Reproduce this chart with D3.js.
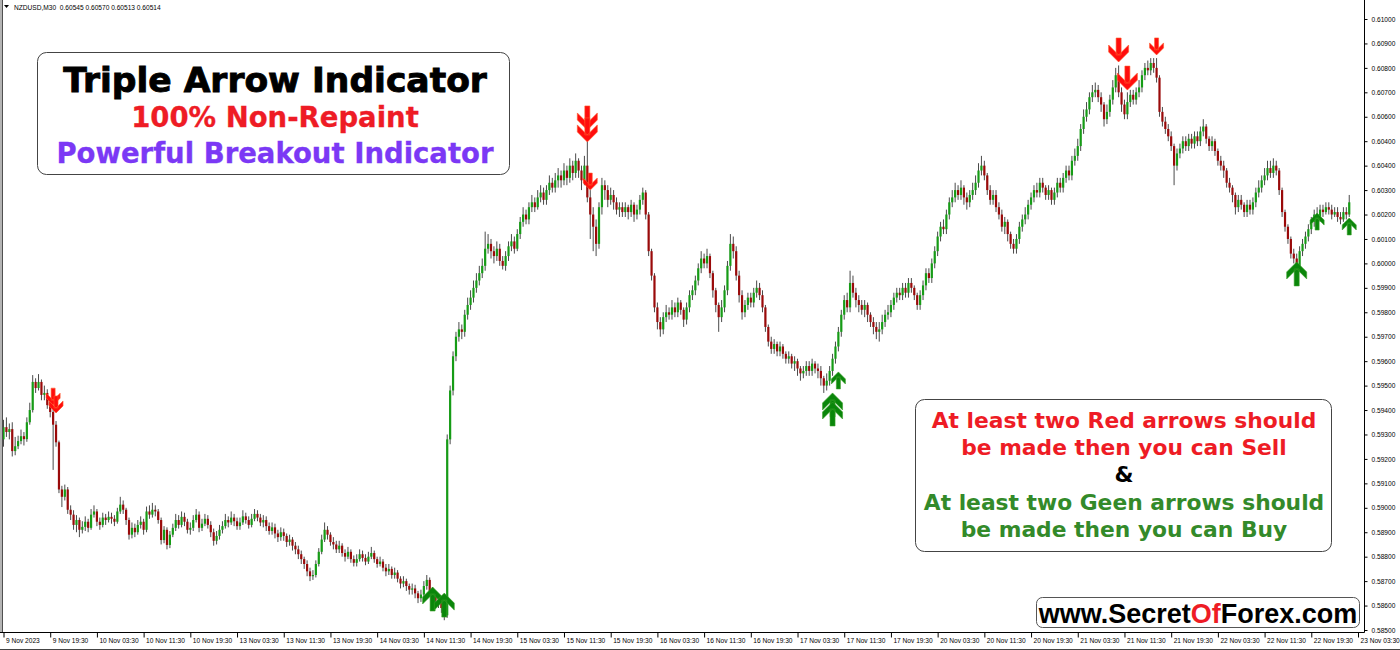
<!DOCTYPE html>
<html><head><meta charset="utf-8">
<script src="https://cdn.jsdelivr.net/npm/d3@7"></script>
<style>body{margin:0;background:#fff;overflow:hidden}svg{display:block}</style>
</head><body>
<svg id="chart" width="1400" height="650"></svg>
<script>
// ---------------- data ----------------
const symbolTitle = "NZDUSD,M30  0.60545 0.60570 0.60513 0.60514";
const timeLabels = ["9 Nov 2023","9 Nov 19:30","10 Nov 03:30","10 Nov 11:30","10 Nov 19:30","13 Nov 03:30","13 Nov 11:30","13 Nov 19:30","14 Nov 03:30","14 Nov 11:30","14 Nov 19:30","15 Nov 03:30","15 Nov 11:30","15 Nov 19:30","16 Nov 03:30","16 Nov 11:30","16 Nov 19:30","17 Nov 03:30","17 Nov 11:30","17 Nov 19:30","20 Nov 03:30","20 Nov 11:30","20 Nov 19:30","21 Nov 03:30","21 Nov 11:30","21 Nov 19:30","22 Nov 03:30","22 Nov 11:30","22 Nov 19:30","23 Nov 03:30"];
const barsPerTimeLabel = 16;
const priceTickValues = [0.610,0.609,0.608,0.607,0.606,0.605,0.604,0.603,0.602,0.601,0.600,0.599,0.598,0.597,0.596,0.595,0.594,0.593,0.592,0.591,0.590,0.589,0.588,0.587,0.586,0.585];
const priceTickLabels = ["0.61000","0.60900","0.60800","0.60700","0.60600","0.60400","0.60400","0.60300","0.60200","0.60100","0.60000","0.59900","0.59800","0.59700","0.59600","0.59500","0.59400","0.59300","0.59200","0.59100","0.59000","0.58900","0.58800","0.58700","0.58600","0.58500"];

const firstOpen = 0.59280;
const closes = [
0.59330,0.59310,0.59322,0.59232,0.59252,0.59273,0.59293,0.59281,0.59350,0.59400,
0.59515,0.59490,0.59515,0.59462,0.59470,0.59420,0.59392,0.59340,0.59268,0.59075,
0.59045,0.59075,0.58992,0.58972,0.58930,0.58950,0.58910,0.58922,0.58943,0.58918,
0.58972,0.58985,0.58943,0.58930,0.58960,0.58950,0.58963,0.58955,0.58943,0.58985,
0.59013,0.58992,0.58950,0.58890,0.58918,0.58900,0.58930,0.58943,0.58910,0.58985,
0.58972,0.58992,0.58985,0.58950,0.58868,0.58910,0.58848,0.58890,0.58918,0.58950,
0.58930,0.58963,0.58943,0.58910,0.58918,0.58950,0.58972,0.58918,0.58935,0.58955,
0.58930,0.58900,0.58865,0.58885,0.58910,0.58925,0.58950,0.58940,0.58960,0.58945,
0.58925,0.58940,0.58965,0.58950,0.58930,0.58955,0.58975,0.58960,0.58940,0.58950,
0.58925,0.58905,0.58920,0.58895,0.58880,0.58900,0.58885,0.58860,0.58870,0.58845,
0.58830,0.58810,0.58790,0.58770,0.58740,0.58720,0.58725,0.58770,0.58820,0.58870,
0.58910,0.58890,0.58860,0.58850,0.58830,0.58845,0.58815,0.58800,0.58820,0.58790,
0.58775,0.58790,0.58810,0.58795,0.58780,0.58800,0.58815,0.58790,0.58770,0.58780,
0.58755,0.58740,0.58750,0.58725,0.58735,0.58710,0.58690,0.58700,0.58680,0.58665,
0.58670,0.58650,0.58630,0.58645,0.58680,0.58705,0.58660,0.58640,0.58620,0.58610,
0.58590,0.58560,0.59280,0.59480,0.59620,0.59700,0.59730,0.59720,0.59790,0.59830,
0.59860,0.59900,0.59930,0.59960,0.59990,0.60060,0.60080,0.60050,0.60030,0.60060,
0.60010,0.59990,0.60030,0.60070,0.60090,0.60060,0.60120,0.60170,0.60200,0.60180,
0.60230,0.60250,0.60230,0.60270,0.60290,0.60260,0.60300,0.60330,0.60310,0.60340,
0.60360,0.60340,0.60380,0.60350,0.60400,0.60370,0.60420,0.60380,0.60340,0.60400,
0.60270,0.60200,0.60150,0.60080,0.60230,0.60320,0.60300,0.60260,0.60280,0.60250,
0.60220,0.60230,0.60210,0.60230,0.60210,0.60240,0.60200,0.60220,0.60260,0.60290,
0.60200,0.60050,0.59950,0.59820,0.59760,0.59730,0.59780,0.59800,0.59790,0.59820,
0.59800,0.59840,0.59810,0.59770,0.59820,0.59870,0.59890,0.59930,0.59980,0.60020,
0.60000,0.60030,0.59960,0.59890,0.59830,0.59780,0.59820,0.59890,0.59990,0.60080,
0.60050,0.59950,0.59870,0.59800,0.59830,0.59860,0.59840,0.59880,0.59900,0.59870,
0.59820,0.59740,0.59680,0.59650,0.59670,0.59640,0.59660,0.59630,0.59610,0.59620,
0.59590,0.59600,0.59570,0.59550,0.59560,0.59580,0.59560,0.59590,0.59570,0.59560,
0.59530,0.59500,0.59520,0.59560,0.59610,0.59660,0.59720,0.59790,0.59850,0.59820,
0.59920,0.59880,0.59850,0.59830,0.59810,0.59830,0.59790,0.59760,0.59740,0.59720,
0.59730,0.59760,0.59790,0.59800,0.59830,0.59860,0.59880,0.59870,0.59900,0.59880,
0.59920,0.59900,0.59870,0.59830,0.59870,0.59910,0.59960,0.59940,0.60000,0.60050,
0.60110,0.60150,0.60140,0.60200,0.60250,0.60270,0.60300,0.60280,0.60310,0.60270,
0.60250,0.60280,0.60300,0.60330,0.60380,0.60400,0.60360,0.60300,0.60260,0.60280,
0.60230,0.60200,0.60150,0.60170,0.60120,0.60080,0.60060,0.60100,0.60150,0.60180,
0.60200,0.60240,0.60270,0.60300,0.60290,0.60330,0.60310,0.60280,0.60300,0.60260,
0.60290,0.60330,0.60310,0.60350,0.60380,0.60360,0.60420,0.60440,0.60480,0.60550,
0.60600,0.60630,0.60680,0.60700,0.60710,0.60680,0.60650,0.60590,0.60620,0.60670,
0.60720,0.60770,0.60700,0.60650,0.60610,0.60660,0.60690,0.60670,0.60700,0.60720,
0.60770,0.60800,0.60790,0.60820,0.60800,0.60760,0.60620,0.60580,0.60550,0.60520,
0.60480,0.60400,0.60450,0.60470,0.60500,0.60480,0.60510,0.60490,0.60520,0.60500,
0.60540,0.60560,0.60510,0.60480,0.60500,0.60460,0.60420,0.60400,0.60380,0.60330,
0.60310,0.60280,0.60230,0.60260,0.60240,0.60210,0.60240,0.60220,0.60250,0.60290,
0.60310,0.60340,0.60360,0.60390,0.60370,0.60400,0.60380,0.60300,0.60210,0.60150,
0.60100,0.60040,0.60020,0.59990,0.60050,0.60080,0.60110,0.60140,0.60170,0.60200,
0.60190,0.60220,0.60210,0.60230,0.60220,0.60200,0.60210,0.60190,0.60180,0.60210,
0.60200,0.60250];
const highs = [
0.59360,0.59370,0.59345,0.59350,0.59290,0.59295,0.59320,0.59310,0.59370,0.59430,
0.59543,0.59530,0.59547,0.59525,0.59500,0.59485,0.59440,0.59400,0.59355,0.59275,
0.59090,0.59095,0.59085,0.59010,0.58990,0.58970,0.58960,0.58945,0.58965,0.58955,
0.58995,0.59010,0.58995,0.58960,0.58980,0.58975,0.58985,0.58980,0.58970,0.59000,
0.59045,0.59030,0.59000,0.58960,0.58940,0.58935,0.58950,0.58965,0.58955,0.59005,
0.59010,0.59020,0.59010,0.58995,0.58960,0.58925,0.58920,0.58905,0.58935,0.58975,
0.58970,0.58985,0.58980,0.58955,0.58940,0.58970,0.58995,0.58985,0.58955,0.58975,
0.58970,0.58945,0.58915,0.58905,0.58930,0.58945,0.58975,0.58965,0.58985,0.58975,
0.58960,0.58960,0.58990,0.58980,0.58965,0.58975,0.58995,0.58990,0.58975,0.58970,
0.58965,0.58940,0.58940,0.58935,0.58910,0.58920,0.58915,0.58895,0.58890,0.58880,
0.58860,0.58845,0.58825,0.58800,0.58785,0.58755,0.58745,0.58785,0.58835,0.58890,
0.58940,0.58925,0.58900,0.58880,0.58865,0.58865,0.58855,0.58830,0.58840,0.58830,
0.58805,0.58810,0.58830,0.58825,0.58810,0.58820,0.58840,0.58825,0.58800,0.58800,
0.58790,0.58770,0.58770,0.58760,0.58755,0.58745,0.58720,0.58720,0.58710,0.58690,
0.58690,0.58685,0.58660,0.58665,0.58700,0.58725,0.58715,0.58675,0.58650,0.58640,
0.58620,0.58600,0.59300,0.59500,0.59640,0.59720,0.59760,0.59750,0.59810,0.59860,
0.59890,0.59930,0.59960,0.59990,0.60020,0.60130,0.60120,0.60100,0.60070,0.60090,
0.60080,0.60030,0.60050,0.60090,0.60120,0.60110,0.60140,0.60190,0.60230,0.60220,
0.60250,0.60280,0.60270,0.60300,0.60320,0.60310,0.60320,0.60360,0.60350,0.60370,
0.60390,0.60380,0.60410,0.60400,0.60430,0.60420,0.60450,0.60430,0.60400,0.60440,
0.60500,0.60300,0.60230,0.60180,0.60250,0.60350,0.60340,0.60320,0.60310,0.60300,
0.60270,0.60250,0.60250,0.60250,0.60240,0.60260,0.60250,0.60240,0.60280,0.60310,
0.60300,0.60210,0.60060,0.59960,0.59840,0.59780,0.59800,0.59830,0.59820,0.59850,
0.59840,0.59860,0.59850,0.59820,0.59840,0.59890,0.59910,0.59950,0.60000,0.60050,
0.60040,0.60060,0.60040,0.59970,0.59900,0.59840,0.59850,0.59910,0.60010,0.60120,
0.60110,0.60070,0.59970,0.59890,0.59850,0.59880,0.59880,0.59900,0.59930,0.59920,
0.59890,0.59830,0.59750,0.59700,0.59690,0.59680,0.59680,0.59670,0.59640,0.59640,
0.59630,0.59620,0.59610,0.59580,0.59580,0.59600,0.59600,0.59610,0.59600,0.59590,
0.59580,0.59540,0.59550,0.59580,0.59630,0.59680,0.59740,0.59810,0.59870,0.59880,
0.59970,0.59950,0.59900,0.59870,0.59850,0.59850,0.59840,0.59800,0.59780,0.59760,
0.59760,0.59790,0.59810,0.59830,0.59850,0.59880,0.59900,0.59900,0.59920,0.59920,
0.59940,0.59940,0.59910,0.59880,0.59890,0.59930,0.59980,0.59980,0.60020,0.60070,
0.60130,0.60170,0.60180,0.60220,0.60270,0.60300,0.60330,0.60320,0.60340,0.60320,
0.60290,0.60300,0.60330,0.60360,0.60410,0.60440,0.60420,0.60370,0.60320,0.60300,
0.60300,0.60250,0.60220,0.60190,0.60180,0.60130,0.60100,0.60120,0.60170,0.60200,
0.60230,0.60260,0.60290,0.60320,0.60330,0.60350,0.60350,0.60320,0.60320,0.60310,
0.60310,0.60350,0.60350,0.60370,0.60400,0.60400,0.60440,0.60470,0.60510,0.60570,
0.60630,0.60660,0.60700,0.60730,0.60740,0.60730,0.60700,0.60660,0.60650,0.60690,
0.60750,0.60800,0.60810,0.60720,0.60670,0.60700,0.60710,0.60710,0.60720,0.60750,
0.60790,0.60820,0.60830,0.60840,0.60840,0.60840,0.60770,0.60640,0.60600,0.60570,
0.60540,0.60490,0.60470,0.60490,0.60520,0.60520,0.60530,0.60530,0.60540,0.60540,
0.60560,0.60590,0.60570,0.60520,0.60520,0.60510,0.60470,0.60440,0.60420,0.60390,
0.60350,0.60320,0.60290,0.60280,0.60280,0.60250,0.60260,0.60260,0.60270,0.60310,
0.60340,0.60360,0.60390,0.60420,0.60420,0.60430,0.60420,0.60390,0.60310,0.60220,
0.60160,0.60110,0.60060,0.60040,0.60070,0.60100,0.60130,0.60160,0.60190,0.60220,
0.60230,0.60240,0.60240,0.60250,0.60250,0.60240,0.60230,0.60230,0.60210,0.60230,
0.60230,0.60280];
const lows = [
0.59250,0.59290,0.59280,0.59210,0.59215,0.59240,0.59260,0.59255,0.59270,0.59340,
0.59390,0.59470,0.59480,0.59440,0.59440,0.59405,0.59370,0.59155,0.59250,0.59060,
0.59003,0.59030,0.58975,0.58950,0.58910,0.58900,0.58880,0.58895,0.58905,0.58900,
0.58910,0.58960,0.58925,0.58910,0.58920,0.58930,0.58940,0.58935,0.58925,0.58935,
0.58975,0.58975,0.58930,0.58870,0.58875,0.58880,0.58890,0.58915,0.58890,0.58900,
0.58955,0.58960,0.58965,0.58935,0.58850,0.58855,0.58830,0.58835,0.58880,0.58905,
0.58915,0.58920,0.58925,0.58895,0.58890,0.58905,0.58940,0.58900,0.58905,0.58925,
0.58915,0.58880,0.58845,0.58850,0.58870,0.58895,0.58915,0.58920,0.58930,0.58925,
0.58910,0.58910,0.58930,0.58935,0.58915,0.58920,0.58945,0.58945,0.58925,0.58920,
0.58905,0.58890,0.58890,0.58875,0.58860,0.58865,0.58865,0.58840,0.58845,0.58825,
0.58810,0.58790,0.58770,0.58750,0.58720,0.58700,0.58705,0.58715,0.58760,0.58810,
0.58860,0.58870,0.58845,0.58830,0.58815,0.58815,0.58800,0.58780,0.58790,0.58775,
0.58760,0.58760,0.58780,0.58780,0.58765,0.58770,0.58790,0.58775,0.58755,0.58760,
0.58740,0.58720,0.58725,0.58710,0.58710,0.58695,0.58670,0.58675,0.58660,0.58645,
0.58645,0.58630,0.58610,0.58615,0.58635,0.58665,0.58645,0.58620,0.58600,0.58590,
0.58570,0.58540,0.58550,0.59260,0.59460,0.59600,0.59680,0.59690,0.59700,0.59770,
0.59810,0.59840,0.59880,0.59910,0.59940,0.59970,0.60040,0.60020,0.60000,0.60010,
0.59990,0.59975,0.59970,0.60010,0.60050,0.60040,0.60050,0.60100,0.60150,0.60160,
0.60160,0.60210,0.60210,0.60220,0.60250,0.60240,0.60240,0.60280,0.60290,0.60290,
0.60310,0.60310,0.60320,0.60320,0.60330,0.60340,0.60350,0.60350,0.60300,0.60320,
0.60250,0.60100,0.60050,0.60030,0.60060,0.60200,0.60260,0.60230,0.60240,0.60220,
0.60200,0.60190,0.60190,0.60190,0.60180,0.60190,0.60170,0.60180,0.60200,0.60240,
0.60180,0.60030,0.59930,0.59800,0.59730,0.59700,0.59710,0.59760,0.59770,0.59770,
0.59780,0.59780,0.59790,0.59740,0.59750,0.59800,0.59850,0.59870,0.59910,0.59960,
0.59980,0.59980,0.59940,0.59860,0.59800,0.59720,0.59760,0.59800,0.59870,0.59970,
0.60020,0.59930,0.59840,0.59770,0.59780,0.59810,0.59820,0.59820,0.59860,0.59850,
0.59800,0.59720,0.59660,0.59630,0.59630,0.59620,0.59620,0.59610,0.59590,0.59590,
0.59570,0.59560,0.59540,0.59520,0.59530,0.59540,0.59540,0.59540,0.59550,0.59530,
0.59500,0.59470,0.59480,0.59500,0.59540,0.59590,0.59640,0.59700,0.59770,0.59800,
0.59800,0.59860,0.59820,0.59800,0.59790,0.59780,0.59760,0.59740,0.59710,0.59690,
0.59680,0.59710,0.59740,0.59770,0.59780,0.59810,0.59840,0.59850,0.59850,0.59860,
0.59860,0.59880,0.59850,0.59810,0.59810,0.59850,0.59890,0.59920,0.59920,0.59980,
0.60030,0.60090,0.60120,0.60120,0.60180,0.60230,0.60250,0.60260,0.60260,0.60240,
0.60220,0.60230,0.60260,0.60280,0.60310,0.60360,0.60340,0.60280,0.60240,0.60240,
0.60210,0.60180,0.60130,0.60120,0.60090,0.60060,0.60040,0.60040,0.60080,0.60130,
0.60160,0.60180,0.60220,0.60250,0.60270,0.60270,0.60290,0.60260,0.60260,0.60240,
0.60240,0.60270,0.60290,0.60290,0.60330,0.60340,0.60340,0.60400,0.60420,0.60460,
0.60530,0.60580,0.60610,0.60660,0.60680,0.60660,0.60620,0.60560,0.60570,0.60600,
0.60650,0.60700,0.60680,0.60620,0.60590,0.60590,0.60640,0.60650,0.60650,0.60680,
0.60700,0.60750,0.60770,0.60770,0.60780,0.60740,0.60600,0.60560,0.60530,0.60500,
0.60460,0.60320,0.60380,0.60430,0.60450,0.60460,0.60460,0.60470,0.60470,0.60480,
0.60480,0.60520,0.60490,0.60460,0.60460,0.60440,0.60400,0.60380,0.60350,0.60310,
0.60290,0.60250,0.60200,0.60210,0.60220,0.60190,0.60190,0.60200,0.60200,0.60230,
0.60270,0.60290,0.60320,0.60340,0.60350,0.60350,0.60360,0.60280,0.60190,0.60130,
0.60080,0.60020,0.60000,0.59970,0.59980,0.60030,0.60060,0.60090,0.60120,0.60150,
0.60170,0.60170,0.60190,0.60200,0.60200,0.60180,0.60190,0.60170,0.60160,0.60170,
0.60180,0.60190];

// indicator arrows: bar index, tip price, glyph level (1 small, 2 large)
const sellArrowBars   = [17, 18, 200, 200, 201, 382, 385, 395];
const sellArrowPrices = [0.59420, 0.59388, 0.60546, 0.60497, 0.60300, 0.60824, 0.60709, 0.60853];
const sellArrowLevels = [1, 1, 2, 2, 1, 2, 2, 1];
const buyArrowBars    = [147, 151, 284, 284, 286, 443, 450, 461];
const buyArrowPrices  = [0.58676, 0.58651, 0.59470, 0.59433, 0.59556, 0.60006, 0.60206, 0.60186];
const buyArrowLevels  = [2, 2, 2, 2, 1, 2, 1, 1];

// ---------------- drawing ----------------
const svg = d3.select("#chart");
const W = 1400, H = 650;
const plotRight = 1364.5, plotBottom = 632.5;
const lastTickIndex = (timeLabels.length - 1) * barsPerTimeLabel;
const x = d3.scaleLinear().domain([0, lastTickIndex]).range([3.5, 1358]);
const y = d3.scaleLinear().domain([0.585, 0.610]).range([630, 19]);

svg.append("rect").attr("width", W).attr("height", H).attr("fill", "#fff");

// candles
const bars = closes.map((c, i) => {
  const o = i === 0 ? firstOpen : closes[i - 1];
  return { i, o, c, h: Math.max(highs[i], o, c), l: Math.min(lows[i], o, c) };
});
const gC = svg.append("g");
gC.selectAll("line.wick").data(bars).join("line")
  .attr("x1", d => x(d.i)).attr("x2", d => x(d.i))
  .attr("y1", d => y(d.h)).attr("y2", d => y(d.l))
  .attr("stroke", "#4a4a4a").attr("stroke-width", 1);
gC.selectAll("rect.body").data(bars).join("rect")
  .attr("x", d => x(d.i) - 1.1).attr("width", 2.2)
  .attr("y", d => y(Math.max(d.o, d.c)))
  .attr("height", d => Math.max(1, Math.abs(y(d.o) - y(d.c))))
  .attr("fill", d => d.c >= d.o ? "#169c16" : "#9a0a0a");

// arrows
const glyph = {1: {w: 14, t: 5, h: 17, s: 4}, 2: {w: 20, t: 7, h: 24, s: 5}};
function arrowPath(level, dir) { // dir 1 = down (tip at 0, body above), -1 = up
  const g = glyph[level];
  const k = dir === 1 ? -1 : 1;
  const hw = g.w / 2;
  const chev = `M${-hw},${k*hw} L0,0 L${hw},${k*hw} L${hw},${k*(hw+g.t)} L0,${k*g.t} L${-hw},${k*(hw+g.t)} Z`;
  const stem = `M${-g.s/2},${k*g.t} L${g.s/2},${k*g.t} L${g.s/2},${k*g.h} L${-g.s/2},${k*g.h} Z`;
  return chev + " " + stem;
}
const gA = svg.append("g");
gA.selectAll("path.sell").data(sellArrowBars.map((b, k) => ({b, p: sellArrowPrices[k], lv: sellArrowLevels[k]})))
  .join("path").attr("d", d => arrowPath(d.lv, 1))
  .attr("transform", d => `translate(${x(d.b)},${y(d.p)})`)
  .attr("fill", "#ff0d0d").attr("stroke", "#ff5a2a").attr("stroke-width", 0.6);
gA.selectAll("path.buy").data(buyArrowBars.map((b, k) => ({b, p: buyArrowPrices[k], lv: buyArrowLevels[k]})))
  .join("path").attr("d", d => arrowPath(d.lv, -1))
  .attr("transform", d => `translate(${x(d.b)},${y(d.p)})`)
  .attr("fill", "#0a860a").attr("stroke", "#3aa02a").attr("stroke-width", 0.6);

// frame
svg.append("rect").attr("x", 0).attr("y", 0).attr("width", 2).attr("height", plotBottom).attr("fill", "#b4b4b4");
svg.append("line").attr("x1", 2.5).attr("x2", 2.5).attr("y1", 0).attr("y2", plotBottom).attr("stroke", "#505050");
svg.append("line").attr("x1", plotRight).attr("x2", plotRight).attr("y1", 0).attr("y2", plotBottom).attr("stroke", "#000");
svg.append("line").attr("x1", 0).attr("x2", plotRight).attr("y1", plotBottom).attr("y2", plotBottom).attr("stroke", "#000");
svg.append("line").attr("x1", 0).attr("x2", W).attr("y1", 649.5).attr("y2", 649.5).attr("stroke", "#444");

const axisFont = "'Liberation Sans', Arial, sans-serif";
// price axis
const yAxis = d3.axisRight(y).tickValues(priceTickValues)
  .tickFormat((d, i) => priceTickLabels[i]).tickSize(3).tickSizeOuter(0).tickPadding(4);
const gy = svg.append("g").attr("transform", `translate(${plotRight},0)`).call(yAxis);
gy.select(".domain").remove();
gy.selectAll("line").attr("stroke", "#000");
gy.selectAll("text").attr("font-family", axisFont).attr("font-size", 6.6).attr("fill", "#000");

// time axis
const xAxis = d3.axisBottom(x).tickValues(timeLabels.map((t, k) => k * barsPerTimeLabel))
  .tickFormat((d, k) => timeLabels[k]).tickSize(5).tickSizeOuter(0);
const gx = svg.append("g").attr("transform", `translate(0,${plotBottom})`).call(xAxis);
gx.select(".domain").remove();
gx.selectAll("line").attr("stroke", "#000");
gx.selectAll("text").attr("font-family", axisFont).attr("font-size", 6.6).attr("fill", "#000")
  .attr("text-anchor", "start").attr("x", 2).attr("y", 6).attr("dy", "0.71em");

// header
svg.append("path").attr("d", "M4,5 L9,5 L6.5,8 Z").attr("fill", "#000");
svg.append("text").attr("x", 14).attr("y", 10).attr("font-family", axisFont)
  .attr("font-size", 6.6).attr("fill", "#000").attr("xml:space", "preserve").text(symbolTitle);

// annotation boxes
const boldFont = "'DejaVu Sans', Verdana, sans-serif";
const b1 = svg.append("g");
b1.append("rect").attr("x", 37.5).attr("y", 52.5).attr("width", 472).attr("height", 122).attr("rx", 9)
  .attr("fill", "#fff").attr("stroke", "#444").attr("stroke-width", 1);
[["Triple Arrow Indicator", 92, 34.5, "#000", 0.9], ["100% Non-Repaint", 127, 27.5, "#ee1c25", 0.3], ["Powerful Breakout Indicator", 163, 27.5, "#7b38f5", 0.3]]
  .forEach(([t, by, fs, col, sw]) => b1.append("text").attr("x", 275).attr("y", by).attr("text-anchor", "middle")
    .attr("font-family", boldFont).attr("font-weight", "bold").attr("font-size", fs).attr("fill", col)
    .attr("stroke", col).attr("stroke-width", sw).text(t));

const b2 = svg.append("g");
b2.append("rect").attr("x", 915.5).attr("y", 399.5).attr("width", 416).attr("height", 152).attr("rx", 9)
  .attr("fill", "#fff").attr("stroke", "#444").attr("stroke-width", 1);
[["At least two Red arrows should", 428, "#ee1c25"], ["be made then you can Sell", 455, "#ee1c25"], ["&", 482, "#000"],
 ["At least two Geen arrows should", 510, "#338a2a"], ["be made then you can Buy", 537, "#338a2a"]]
  .forEach(([t, by, col]) => b2.append("text").attr("x", 1124).attr("y", by).attr("text-anchor", "middle")
    .attr("font-family", boldFont).attr("font-weight", "bold").attr("font-size", 21.8).attr("fill", col).text(t));

const b3 = svg.append("g");
b3.append("rect").attr("x", 1036.5).attr("y", 597.5).attr("width", 323).attr("height", 30).attr("rx", 6)
  .attr("fill", "#fff").attr("stroke", "#555").attr("stroke-width", 1);
const url = b3.append("text").attr("x", 1198).attr("y", 623).attr("text-anchor", "middle")
  .attr("font-family", "'Liberation Sans', Arial, sans-serif").attr("font-weight", "bold").attr("font-size", 27).attr("fill", "#000");
url.append("tspan").text("www.Secret");
url.append("tspan").attr("fill", "#ee1c25").text("Of");
url.append("tspan").text("Forex.com");
</script>
</body></html>
